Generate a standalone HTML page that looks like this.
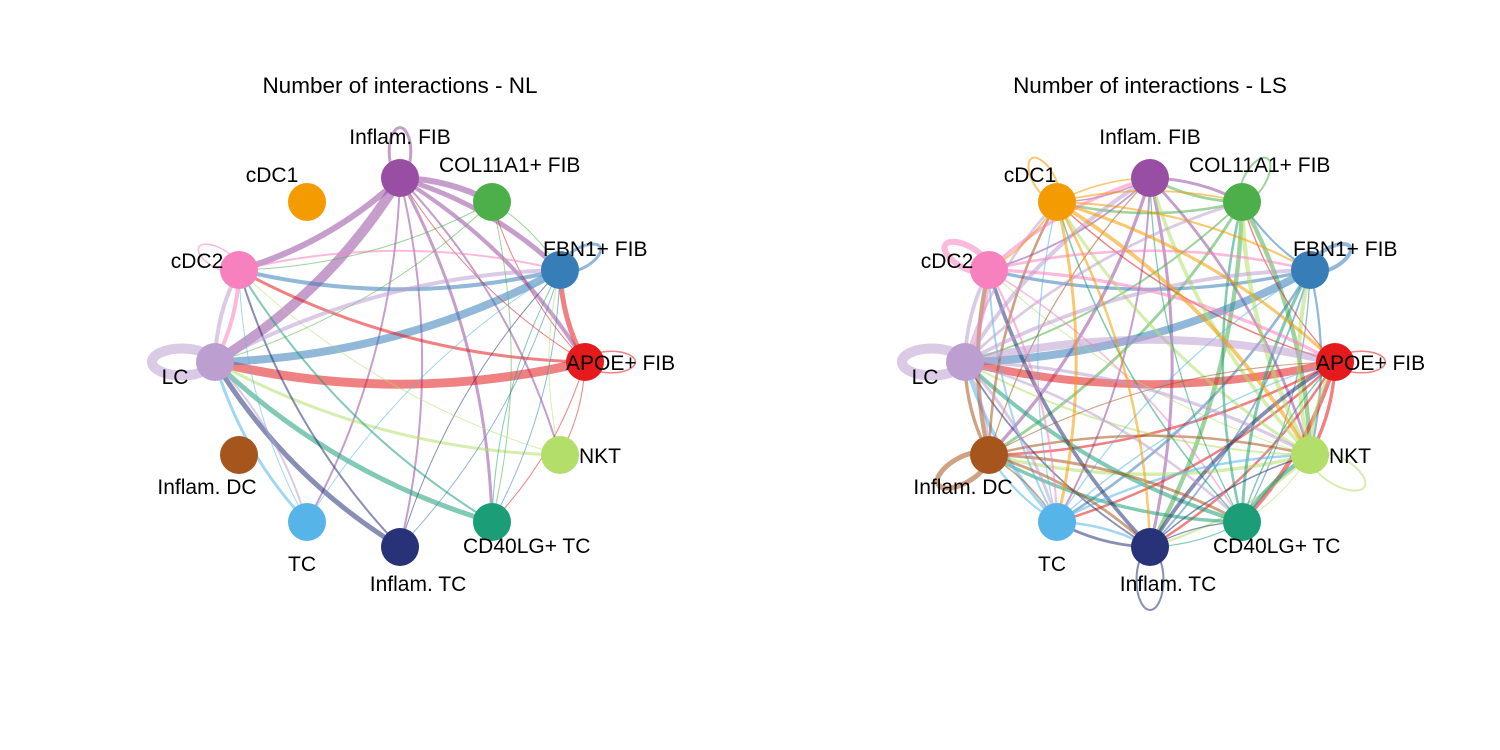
<!DOCTYPE html>
<html><head><meta charset="utf-8"><style>
html,body{margin:0;padding:0;background:#fff;}
svg{display:block;}
text{font-family:"Liberation Sans",Arial,sans-serif;font-size:21px;fill:#000;}
text.t{font-size:22.5px;}
</style></head><body>
<svg id="s" width="1500" height="750" viewBox="0 0 1500 750">
<g id="edges"></g>
<g id="nodes"></g>
<g id="labels">
<text class="t" x="400" y="93" text-anchor="middle">Number of interactions - NL</text>
<text class="t" x="1150" y="93" text-anchor="middle">Number of interactions - LS</text>
<text x="400" y="144" text-anchor="middle">Inflam. FIB</text>
<text x="439" y="172">COL11A1+ FIB</text>
<text x="543" y="256">FBN1+ FIB</text>
<text x="566" y="370">APOE+ FIB</text>
<text x="579" y="463">NKT</text>
<text x="463" y="553">CD40LG+ TC</text>
<text x="418" y="591" text-anchor="middle">Inflam. TC</text>
<text x="302" y="571" text-anchor="middle">TC</text>
<text x="207" y="494" text-anchor="middle">Inflam. DC</text>
<text x="175" y="384" text-anchor="middle">LC</text>
<text x="197" y="268" text-anchor="middle">cDC2</text>
<text x="272" y="182" text-anchor="middle">cDC1</text>
<text x="1150" y="144" text-anchor="middle">Inflam. FIB</text>
<text x="1189" y="172">COL11A1+ FIB</text>
<text x="1293" y="256">FBN1+ FIB</text>
<text x="1316" y="370">APOE+ FIB</text>
<text x="1329" y="463">NKT</text>
<text x="1213" y="553">CD40LG+ TC</text>
<text x="1168" y="591" text-anchor="middle">Inflam. TC</text>
<text x="1052" y="571" text-anchor="middle">TC</text>
<text x="963" y="494" text-anchor="middle">Inflam. DC</text>
<text x="925" y="384" text-anchor="middle">LC</text>
<text x="947" y="268" text-anchor="middle">cDC2</text>
<text x="1030" y="182" text-anchor="middle">cDC1</text>
</g>
</svg>
<script>
var P=[[400,178],[492,202],[560,270],[585,362],[560,455],[492,522],[400,547],[307,522],[239,455],[215,362],[239,270],[307,202]];
var C=["#984EA3","#4DAF4A","#377EB8","#E41A1C","#B3DE69","#1B9E77","#283278","#56B4E9","#A6561D","#BC9FD0","#F781BF","#F39B00"];
var NS="http://www.w3.org/2000/svg";
var E=document.getElementById("edges"),N=document.getElementById("nodes");
function el(t,a,p){var e=document.createElementNS(NS,t);for(var k in a)e.setAttribute(k,a[k]);p.appendChild(e);return e;}
function edge(ox,s,t,w){var a=P[s],b=P[t];var x1=a[0]+ox,y1=a[1],x2=b[0]+ox,y2=b[1];
var dx=x2-x1,dy=y2-y1;var mx=(x1+x2)/2,my=(y1+y2)/2;var k=-0.12;
var cx=mx-dy*k,cy=my+dx*k;
el("path",{d:"M"+x1+","+y1+" Q"+cx+","+cy+" "+x2+","+y2,fill:"none",stroke:C[s],"stroke-width":w,"stroke-opacity":0.55,"stroke-linecap":"round"},E);}
function loop(ox,i,w,sz){var a=P[i];var dx=a[0]-400,dy=a[1]-362;var L=Math.sqrt(dx*dx+dy*dy);var ux=dx/L,uy=dy/L;
var x=a[0]+ox,y=a[1];var cx=x+ux*sz*1.1,cy=y+uy*sz*1.1;var ang=Math.atan2(uy,ux)*180/Math.PI;
el("ellipse",{cx:cx,cy:cy,rx:sz,ry:sz*0.45,transform:"rotate("+ang+" "+cx+" "+cy+")",fill:"none",stroke:C[i],"stroke-width":w,"stroke-opacity":0.55},E);}
var L=[[0,9,10],[0,10,6],[0,2,5],[0,1,6],[0,3,4],[0,5,3],[0,4,2],[0,6,2],[0,7,2],[3,9,9],[2,9,8],[2,10,4],[3,10,3],[3,2,5],[3,1,1],[3,0,1],[3,4,1],[3,5,1],[4,9,3],[5,9,5],[5,10,2],[5,2,1],[6,9,5],[6,10,2],[6,2,1],[7,9,3],[7,10,1],[7,2,1],[10,9,4],[10,2,2],[1,10,1],[1,9,1],[1,5,1],[1,2,1],[4,2,1],[4,10,1],[9,10,4],[9,7,2],[9,2,4],[2,5,1],[2,6,1]];
L.forEach(function(e){edge(0,e[0],e[1],e[2]);});
loop(0,9,10,30);loop(0,0,3,24);loop(0,2,3,22);loop(0,3,1.5,24);loop(0,10,1.5,22);
var seed=7;function r(){seed=(seed*9301+49297)%233280;return seed/233280;}
for(var i=0;i<12;i++)for(var j=0;j<12;j++){if(i==j)continue;if(r()<0.25)continue;var w=1+r()*3.5;
if((i==3&&j==9)||(i==2&&j==9)||(i==9&&j==3))w=8;edge(750,i,j,w);}
loop(750,9,10,30);loop(750,11,2,24);loop(750,1,2,24);loop(750,2,4,22);loop(750,3,1.5,24);loop(750,4,2,30);loop(750,6,2,30);loop(750,8,5,28);loop(750,10,6,24);
[0,750].forEach(function(ox){P.forEach(function(p,i){el("circle",{cx:p[0]+ox,cy:p[1],r:19,fill:C[i]},N);});});
</script>
</body></html>
